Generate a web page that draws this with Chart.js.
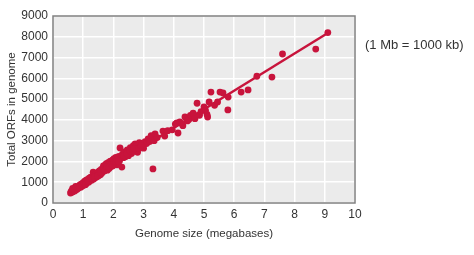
<!DOCTYPE html>
<html>
<head>
<meta charset="utf-8">
<script src="https://cdn.jsdelivr.net/npm/chart.js@4/dist/chart.umd.min.js"></script>
<style>
  html, body { margin: 0; padding: 0; background: #ffffff; }
  #wrap { width: 474px; height: 255px; }
</style>
</head>
<body>
<div id="wrap"><canvas id="c" width="474" height="255"></canvas></div>
<script>
// Genome size (megabases) and total ORFs
const genomeSize = [
  0.58, 0.60, 0.62, 0.64, 0.66, 0.68, 0.70, 0.72, 0.74, 0.76,
  0.78, 0.80, 0.82, 0.85, 0.88, 0.90, 0.92, 0.95, 0.98, 1.00,
  1.02, 1.05, 1.08, 1.10, 1.12, 1.15, 1.18, 1.20, 1.22, 1.25,
  1.28, 1.33, 1.32, 1.35, 1.38, 1.40, 1.42, 1.45, 1.48, 1.50,
  1.52, 1.55, 1.57, 1.60, 1.62, 1.65, 1.67, 1.70, 1.72, 1.74,
  1.76, 1.78, 1.80, 1.82, 1.84, 1.86, 1.88, 1.90, 1.92, 1.95,
  1.98, 2.00, 2.02, 2.05, 2.08, 2.10, 2.12, 2.15, 2.18, 2.20,
  2.22, 2.25, 2.28, 2.30, 2.33, 2.36, 2.40, 2.43, 2.46, 2.50,
  2.53, 2.56, 2.60, 2.63, 2.66, 2.70, 2.72, 2.75, 2.78, 2.80,
  2.83, 2.86, 2.90, 2.95, 3.00, 3.05, 3.10, 3.15, 3.20, 3.25,
  3.31, 3.38, 3.35, 3.45, 3.64, 3.70, 3.80, 3.95, 4.05, 4.14,
  4.10, 4.20, 4.27, 4.30, 4.37, 4.47, 4.45, 4.50, 4.55, 4.64,
  4.65, 4.70, 4.77, 4.85, 4.90, 5.00, 5.05, 5.10, 5.12, 5.17,
  5.23, 5.35, 5.45, 5.53, 5.63, 5.79, 5.80, 6.23, 6.46, 6.75,
  7.25, 7.60, 8.70, 9.10,
  0.65, 0.75, 0.87, 0.97, 1.07, 1.17, 1.27, 1.37, 1.47, 1.58,
  1.68, 1.73, 1.79, 1.85, 1.93, 1.97, 2.03, 2.07, 2.13, 2.17,
  2.35, 2.45, 2.55, 2.65, 2.68, 2.85, 2.92
];
const totalOrfs = [
  480, 560, 520, 620, 540, 640, 680, 580, 720, 640,
  760, 660, 790, 720, 840, 880, 760, 920, 860, 980,
  860, 1050, 900, 1100, 960, 1140, 1000, 1200, 1060, 1250,
  1100, 1480, 1280, 1150, 1340, 1220, 1400, 1260, 1460, 1300,
  1520, 1560, 1360, 1620, 1440, 1680, 1780, 1540, 1720, 1860,
  1660, 1900, 1580, 1800, 1960, 1660, 1880, 2020, 1760, 1920,
  2080, 1820, 2140, 1900, 2200, 1980, 1840, 2160, 2240, 2020,
  2650, 2150, 1730, 2350, 2180, 2460, 2220, 2400, 2560, 2280,
  2480, 2660, 2380, 2600, 2760, 2500, 2840, 2580, 2780, 2440,
  2680, 2900, 2700, 2840, 2640, 2950, 2860, 3080, 2960, 3240,
  1640, 3320, 3000, 3150, 3460, 3220, 3480, 3520, 3800, 3370,
  3850, 3900, 3820, 3720, 4140, 4090, 3950, 4020, 4220, 4330,
  4280, 4060, 4800, 4220, 4400, 4620, 4460, 4260, 4140, 4860,
  5340, 4700, 4860, 5340, 5300, 4480, 5100, 5340, 5440, 6100,
  6060, 7170, 7410, 8200,
  700, 800, 760, 820, 880, 1040, 1180, 1240, 1300, 1480,
  1600, 1580, 1760, 1700, 1860, 1780, 1960, 2020, 2060, 2000,
  2280, 2360, 2500, 2500, 2620, 2620, 2760
];
// Fitted line end points
const fitX = [0.5, 9.1];
const fitY = [480, 8180];

const xTicks = [0,1,2,3,4,5,6,7,8,9,10];
const yTicks = [0,1000,2000,3000,4000,5000,6000,7000,8000,9000];

const RED = '#c8143c';
const FONT = '"Liberation Sans", Arial, Helvetica, sans-serif';

const scatterData = genomeSize.map((x, i) => ({x: x, y: totalOrfs[i]}));
const lineData = fitX.map((x, i) => ({x: x, y: fitY[i]}));

const framePlugin = {
  id: 'frame',
  beforeDraw(chart) {
    const {ctx, chartArea: a} = chart;
    ctx.save();
    ctx.fillStyle = '#ebebeb';
    ctx.fillRect(a.left, a.top, a.right - a.left, a.bottom - a.top);
    ctx.restore();
  },
  beforeDatasetsDraw(chart) {
    const {ctx, chartArea: a} = chart;
    ctx.save();
    ctx.strokeStyle = '#808080';
    ctx.lineWidth = 1.5;
    ctx.strokeRect(a.left, a.top, a.right - a.left, a.bottom - a.top);
    ctx.restore();
  },
  afterDraw(chart) {
    const {ctx} = chart;
    ctx.save();
    ctx.fillStyle = '#333333';
    ctx.font = '13px ' + FONT;
    ctx.textAlign = 'left';
    ctx.textBaseline = 'middle';
    ctx.fillText('(1 Mb = 1000 kb)', 365, 45);
    ctx.restore();
  }
};

new Chart(document.getElementById('c'), {
  type: 'scatter',
  data: {
    datasets: [
      {
        type: 'line',
        data: lineData,
        borderColor: RED,
        borderWidth: 2.5,
        pointRadius: 0,
        fill: false,
        order: 2
      },
      {
        type: 'scatter',
        data: scatterData,
        backgroundColor: RED,
        borderColor: RED,
        borderWidth: 0,
        pointRadius: 3.4,
        order: 1
      }
    ]
  },
  options: {
    responsive: false,
    animation: false,
    devicePixelRatio: 1,
    layout: { padding: { left: 0, right: 119, top: 16, bottom: 0 } },
    plugins: { legend: { display: false }, tooltip: { enabled: false } },
    scales: {
      x: {
        type: 'linear',
        min: 0, max: 10,
        afterBuildTicks(scale) { scale.ticks = xTicks.map(v => ({value: v})); },
        afterFit(scale) { scale.height = 52; },
        grid: { color: '#ffffff', lineWidth: 1.5, drawTicks: false },
        border: { display: false },
        ticks: { color: '#333333', font: { family: FONT, size: 12 }, padding: 4, maxRotation: 0,
                 callback: v => String(v) },
        title: {
          display: true, text: 'Genome size (megabases)', color: '#333333',
          font: { family: FONT, size: 11.5 }, padding: { top: 0, bottom: 14 }
        }
      },
      y: {
        type: 'linear',
        min: 0, max: 9000,
        afterBuildTicks(scale) { scale.ticks = yTicks.map(v => ({value: v})); },
        afterFit(scale) { scale.width = 53; },
        grid: { color: '#ffffff', lineWidth: 1.5, drawTicks: false },
        border: { display: false },
        ticks: { color: '#333333', font: { family: FONT, size: 12 }, padding: 5,
                 callback: v => String(v) },
        title: {
          display: true, text: 'Total ORFs in genome', color: '#333333',
          font: { family: FONT, size: 11.5 }, padding: { top: 5, bottom: 0 }
        }
      }
    }
  },
  plugins: [framePlugin]
});
</script>
</body>
</html>
